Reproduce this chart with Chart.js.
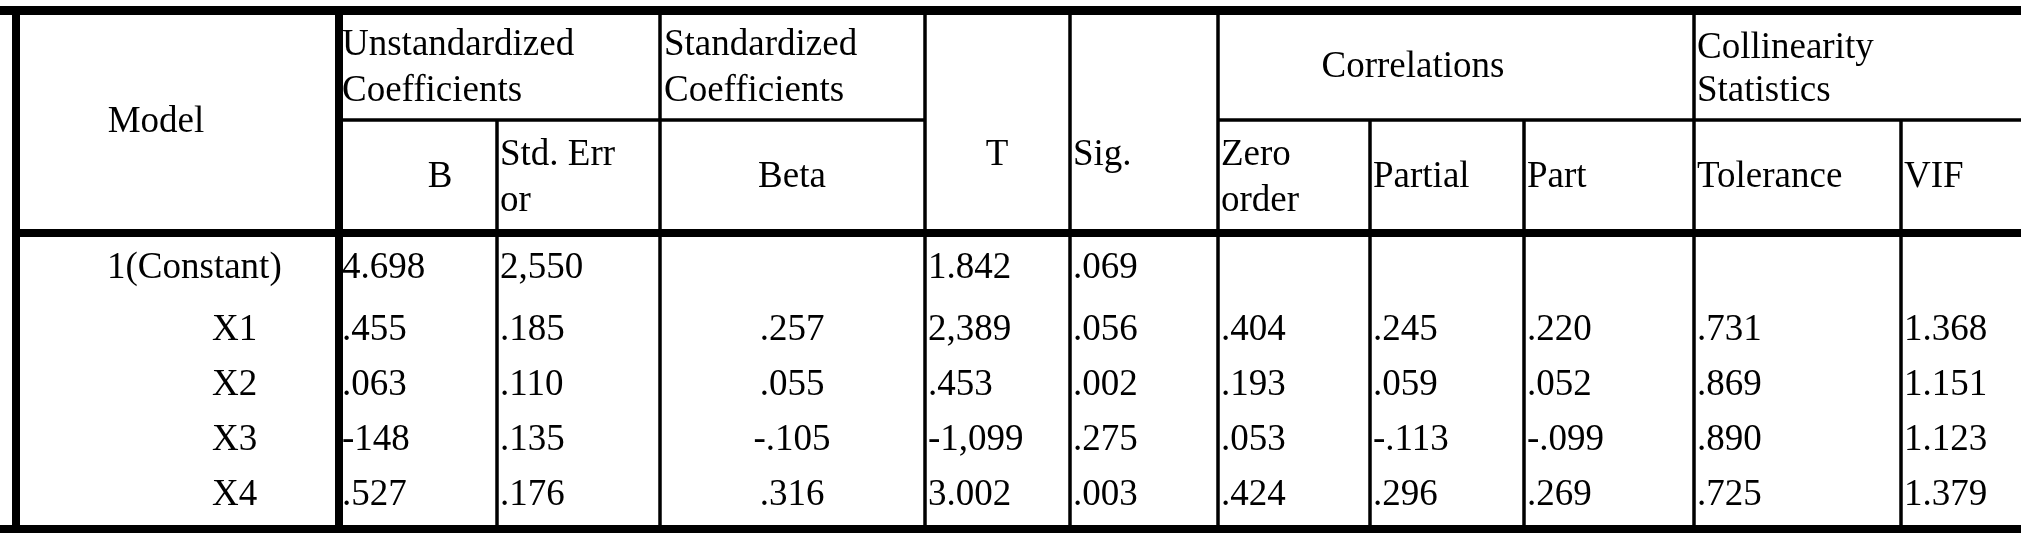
<!DOCTYPE html>
<html>
<head>
<meta charset="utf-8">
<script src="https://cdn.jsdelivr.net/npm/chart.js@4"></script>
<style>
  html, body { margin: 0; padding: 0; background: #fff; }
  #wrap { width: 2021px; height: 533px; }
</style>
</head>
<body>
<div id="wrap"><canvas id="c"></canvas></div>
<script>
// table content
const rowLabels = ['1(Constant)', 'X1', 'X2', 'X3', 'X4'];
const colB = ['4.698', '.455', '.063', '-148', '.527'];
const colStdErr = ['2,550', '.185', '.110', '.135', '.176'];
const colBeta = ['', '.257', '.055', '-.105', '.316'];
const colT = ['1.842', '2,389', '.453', '-1,099', '3.002'];
const colSig = ['.069', '.056', '.002', '.275', '.003'];
const colZero = ['', '.404', '.193', '.053', '.424'];
const colPartial = ['', '.245', '.059', '-.113', '.296'];
const colPart = ['', '.220', '.052', '-.099', '.269'];
const colTol = ['', '.731', '.869', '.890', '.725'];
const colVIF = ['', '1.368', '1.151', '1.123', '1.379'];

// layout (in scale units = pixels of the reference)
const xEdges = [16, 339, 497, 660, 925, 1070, 1218, 1370, 1524, 1694, 1901];
const rowY = [268, 330, 385, 440, 495];

const tablePlugin = {
  id: 'table',
  afterDraw(chart) {
    const ctx = chart.ctx, xs = chart.scales.x, ys = chart.scales.y;
    const X = v => xs.getPixelForValue(v), Y = v => ys.getPixelForValue(v);
    ctx.save();
    ctx.strokeStyle = '#000';
    const line = (x1, y1, x2, y2, w) => {
      ctx.lineWidth = w; ctx.beginPath();
      ctx.moveTo(X(x1), Y(y1)); ctx.lineTo(X(x2), Y(y2)); ctx.stroke();
    };
    // outer border
    line(0, 10.5, 2021, 10.5, 9);
    line(0, 529, 2021, 529, 8);
    line(16, 6, 16, 533, 8);
    // header separators
    line(12, 233, 2021, 233, 8);
    line(339, 120, 925, 120, 3.5);
    line(1218, 120, 2021, 120, 3.5);
    // vertical lines
    line(339, 6, 339, 533, 8);
    [660, 925, 1070, 1218, 1694].forEach(x => line(x, 6, x, 533, 3.5));
    [497, 1370, 1524, 1901].forEach(x => line(x, 120, x, 533, 3.5));

    ctx.fillStyle = '#000';
    ctx.font = '37px "Liberation Serif"';
    ctx.textBaseline = 'middle';
    const text = (s, x, y, align) => { ctx.textAlign = align || 'left'; ctx.fillText(s, X(x), Y(y)); };
    // header
    text('Model', 156, 122, 'center');
    text('Unstandardized', 342, 45); text('Coefficients', 342, 91);
    text('Standardized', 664, 45); text('Coefficients', 664, 91);
    text('T', 997, 155, 'center');
    text('Sig.', 1073, 155);
    text('Correlations', 1413, 67, 'center');
    text('Collinearity', 1697, 48); text('Statistics', 1697, 91);
    text('B', 440, 177, 'center');
    text('Std. Err', 500, 155); text('or', 500, 201);
    text('Beta', 792, 177, 'center');
    text('Zero', 1221, 155); text('order', 1221, 201);
    text('Partial', 1373, 177);
    text('Part', 1527, 177);
    text('Tolerance', 1697, 177);
    text('VIF', 1904, 177);
    // body
    rowLabels.forEach((s, i) => text(s, i === 0 ? 107 : 212, rowY[i]));
    const cols = [[colB, 342], [colStdErr, 500], [colT, 928], [colSig, 1073], [colZero, 1221],
                  [colPartial, 1373], [colPart, 1527], [colTol, 1697], [colVIF, 1904]];
    cols.forEach(([arr, x]) => arr.forEach((s, i) => text(s, x, rowY[i])));
    colBeta.forEach((s, i) => text(s, 792, rowY[i], 'center'));
    ctx.restore();
  }
};

new Chart(document.getElementById('c'), {
  type: 'scatter',
  data: { datasets: [{ data: [], pointRadius: 0 }] },
  options: {
    responsive: true, maintainAspectRatio: false, animation: false,
    layout: { padding: 0 },
    plugins: { legend: { display: false }, tooltip: { enabled: false } },
    scales: {
      x: { type: 'linear', min: 0, max: 2021, display: false },
      y: { type: 'linear', min: 0, max: 533, reverse: true, display: false }
    }
  },
  plugins: [tablePlugin]
});
</script>
</body>
</html>
